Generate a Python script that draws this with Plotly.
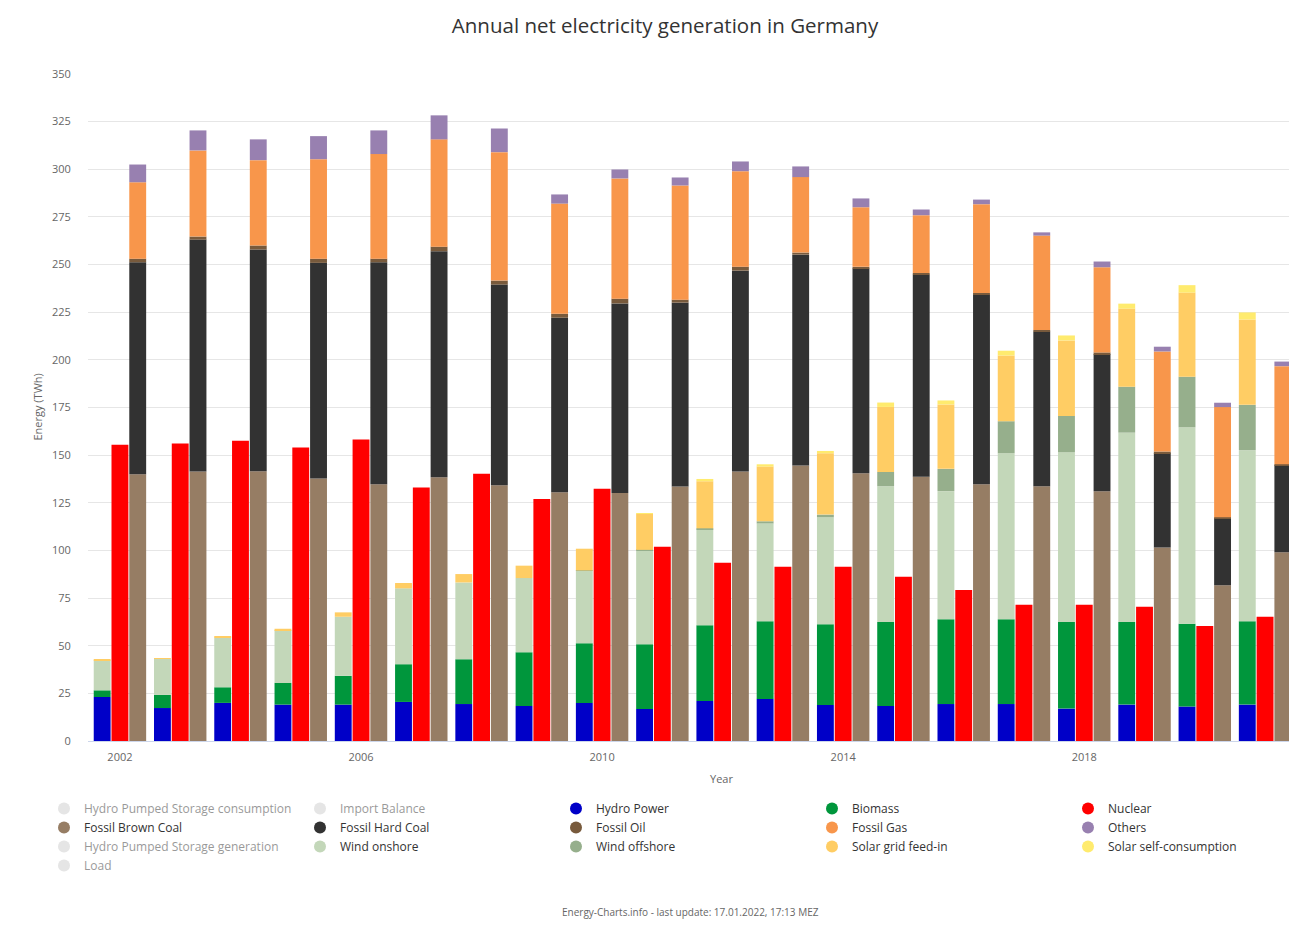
import numpy as np
import plotly.graph_objects as go

years = list(range(2002, 2022))

# renewable generation, TWh
hydro = [23.1, 17.3, 20.0, 19.1, 19.1, 20.5, 19.4, 18.4, 20.0, 16.8,
         21.0, 22.1, 18.9, 18.4, 19.4, 19.4, 17.0, 19.1, 18.1, 19.1]
biomass = [3.5, 6.9, 8.2, 11.4, 15.1, 19.8, 23.5, 28.2, 31.3, 34.0,
           39.8, 40.8, 42.4, 44.1, 44.5, 44.5, 45.5, 43.4, 43.4, 43.8]
wind_onshore = [15.8, 18.9, 26.1, 27.7, 31.0, 39.8, 40.3, 38.9, 38.0, 48.9,
                50.3, 51.3, 56.1, 71.2, 67.2, 87.1, 89.0, 99.3, 103.2, 89.7]
wind_offshore = [0, 0, 0, 0, 0, 0, 0, 0, 0.2, 0.6,
                 0.5, 1.1, 1.4, 7.5, 11.7, 16.8, 19.1, 24.1, 26.4, 23.8]
solar_grid = [0.2, 0.3, 0.6, 0.7, 2.3, 2.8, 4.4, 6.5, 11.4, 18.9,
              24.7, 28.7, 32.2, 34.1, 33.8, 34.5, 39.6, 41.0, 44.2, 44.8]
solar_self = [0, 0, 0, 0, 0, 0, 0, 0, 0, 0.4,
              1.2, 1.2, 1.2, 2.3, 2.1, 2.5, 2.6, 2.6, 3.9, 3.7]

# nuclear
nuclear = [155.5, 156.1, 157.6, 154.0, 158.2, 133.0, 140.3, 127.0, 132.3, 101.9,
           93.5, 91.4, 91.4, 86.2, 79.2, 71.5, 71.5, 70.4, 60.4, 65.2]

# fossil + others
brown_coal = [140.0, 141.4, 141.6, 137.7, 134.7, 138.4, 134.2, 130.5, 130.2, 133.5,
              141.4, 144.5, 140.5, 138.7, 134.7, 133.7, 131.1, 101.6, 81.7, 99.0]
hard_coal = [111.2, 121.7, 116.3, 113.2, 116.5, 118.6, 105.3, 91.6, 99.4, 96.5,
             105.4, 110.7, 107.5, 106.0, 99.5, 81.1, 71.9, 49.4, 35.2, 45.7]
oil = [1.9, 1.6, 2.1, 2.2, 1.9, 2.4, 2.1, 2.1, 2.5, 1.6,
       2.1, 1.1, 0.8, 0.9, 0.9, 0.9, 0.9, 0.9, 0.5, 0.5]
gas = [40.1, 45.2, 44.8, 52.2, 54.9, 56.3, 67.4, 57.8, 63.1, 59.9,
       50.1, 39.6, 31.3, 30.3, 46.6, 49.5, 44.7, 52.5, 57.8, 51.5]
others = [9.3, 10.5, 10.9, 12.1, 12.4, 12.6, 12.4, 4.8, 4.7, 4.2,
          5.1, 5.6, 4.6, 3.0, 2.4, 1.7, 3.0, 2.5, 2.3, 2.4]

colors = {
    "Hydro Power": "#0000c8",
    "Biomass": "#00963c",
    "Nuclear": "#ff0000",
    "Fossil Brown Coal": "#967d64",
    "Fossil Hard Coal": "#323232",
    "Fossil Oil": "#785a3c",
    "Fossil Gas": "#f8964b",
    "Others": "#9880b0",
    "Wind onshore": "#c3d7b9",
    "Wind offshore": "#96af8c",
    "Solar grid feed-in": "#ffcd64",
    "Solar self-consumption": "#ffeb6e",
}

# stacks: (bar offset, series bottom -> top)
stacks = [
    (-0.435, [("Hydro Power", hydro), ("Biomass", biomass),
              ("Wind onshore", wind_onshore), ("Wind offshore", wind_offshore),
              ("Solar grid feed-in", solar_grid),
              ("Solar self-consumption", solar_self)]),
    (-0.14, [("Nuclear", nuclear)]),
    (0.155, [("Fossil Brown Coal", brown_coal), ("Fossil Hard Coal", hard_coal),
             ("Fossil Oil", oil), ("Fossil Gas", gas), ("Others", others)]),
]

fig = go.Figure()

for offset, series in stacks:
    base = np.zeros(len(years))
    for name, vals in series:
        vals = np.array(vals, dtype=float)
        fig.add_trace(go.Bar(
            x=years, y=vals, base=base.copy(), name=name,
            offset=offset, width=0.28,
            marker=dict(color=colors[name], line=dict(width=0)),
            legendgroup=name, showlegend=False,
            hovertemplate="%{x}: %{y:.1f} TWh<extra>" + name + "</extra>",
        ))
        base = base + vals

# legend columns, as in the original 5-column grid
legend_columns = [
    ["Hydro Pumped Storage consumption", "Fossil Brown Coal",
     "Hydro Pumped Storage generation", "Load"],
    ["Import Balance", "Fossil Hard Coal", "Wind onshore"],
    ["Hydro Power", "Fossil Oil", "Wind offshore"],
    ["Biomass", "Fossil Gas", "Solar grid feed-in"],
    ["Nuclear", "Others", "Solar self-consumption"],
]

font = "Open Sans, DejaVu Sans, sans-serif"
W, H = 1289, 924  # page has an 8px body margin
L, T, B = 80, 66, 191
plot_w, plot_h = W - L, H - T - B

legend_layout = {}
for i, column in enumerate(legend_columns):
    key = "legend" if i == 0 else "legend%d" % (i + 1)
    for name in column:
        hidden = name not in colors
        fig.add_trace(go.Scatter(
            x=[None], y=[None], mode="markers", name=name,
            marker=dict(symbol="circle", size=12,
                        color="#cccccc" if hidden else colors[name]),
            legendgroup=name, showlegend=True, legend=key,
            visible="legendonly" if hidden else True,
        ))
    legend_layout[key] = dict(
        orientation="v", xref="paper", yref="paper",
        x=(36 + 256 * i - L) / plot_w, xanchor="left",
        y=(plot_h + T - 786) / plot_h, yanchor="top",
        tracegroupgap=0, bgcolor="rgba(0,0,0,0)",
        font=dict(size=12, color="#333333", family=font),
        itemclick=False, itemdoubleclick=False,
    )

fig.update_layout(
    width=W, height=H,
    barmode="overlay",
    plot_bgcolor="white", paper_bgcolor="white",
    margin=dict(l=L, r=0, t=T, b=B),
    font=dict(family=font, color="#666666", size=11),
    title=dict(text="Annual net electricity generation in Germany",
               x=657 / W, xanchor="center", y=1 - 18 / H, yanchor="middle",
               font=dict(size=20.5, color="#333333", family=font)),
    xaxis=dict(range=[2001.47, 2021.53], tick0=2002, dtick=4,
               showgrid=False, showline=True, linecolor="#ccd6eb", linewidth=1,
               ticks="outside", ticklen=6, tickcolor="rgba(0,0,0,0)",
               tickfont=dict(size=11, color="#666666"), zeroline=False),
    yaxis=dict(range=[0, 350], dtick=25, showgrid=True, gridcolor="#e6e6e6",
               zeroline=False, ticks="outside", ticklen=14,
               tickcolor="rgba(0,0,0,0)",
               tickfont=dict(size=11, color="#666666")),
    showlegend=True,
    annotations=[
        dict(text="Energy (TWh)", xref="paper", yref="paper",
             x=(37 - 88) / 1209, y=0.5, xanchor="center", yanchor="middle",
             textangle=-90, showarrow=False,
             font=dict(size=11, color="#666666")),
        dict(text="Year", xref="paper", yref="paper",
             x=(722 - 88) / 1209, y=(741 - 778) / 667, showarrow=False,
             xanchor="center", yanchor="middle",
             font=dict(size=11, color="#666666")),
        dict(text="Energy-Charts.info - last update: 17.01.2022, 17:13 MEZ",
             xref="paper", yref="paper",
             x=(690 - 88) / 1209, y=(741 - 912) / 667, showarrow=False,
             xanchor="center", yanchor="middle",
             font=dict(size=10, color="#666666")),
    ],
    **legend_layout,
)

fig.write_html("out.html")
